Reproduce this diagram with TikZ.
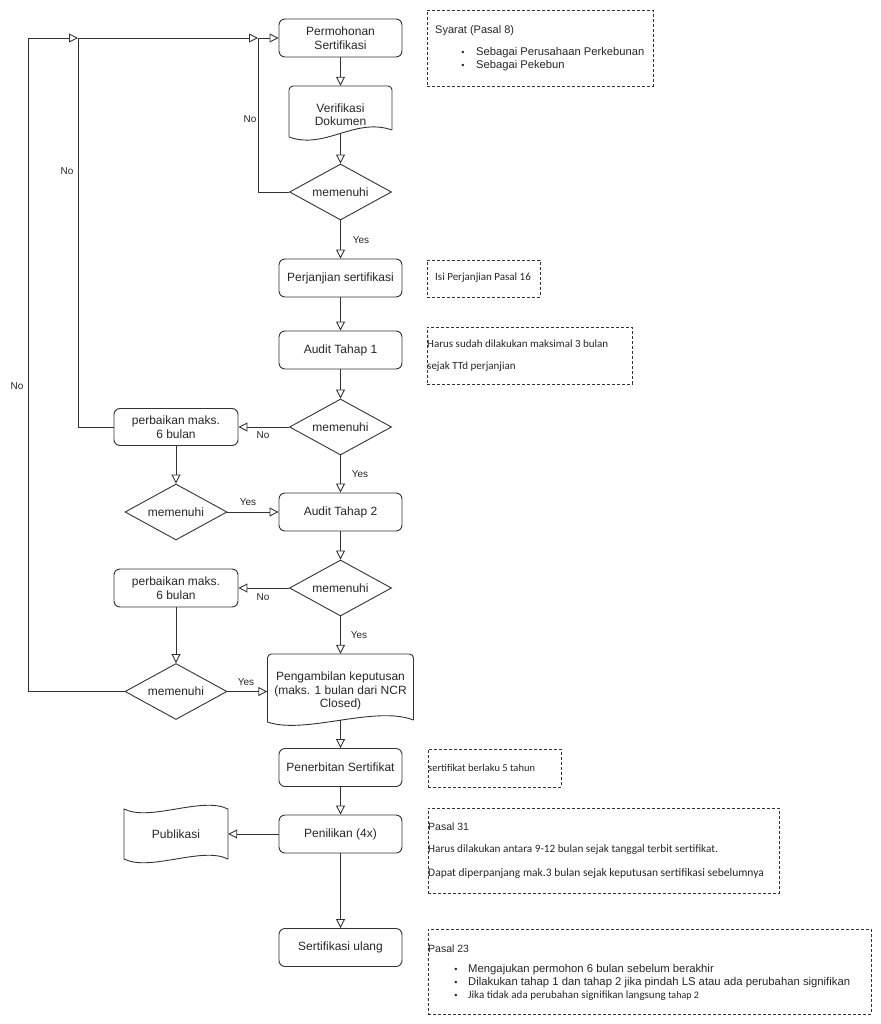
\documentclass[tikz,border=0pt]{standalone}
\usepackage{fontspec}
\setmainfont{Liberation Sans}
\newfontfamily\notefont{Carlito}
\usetikzlibrary{shapes.geometric,arrows.meta,calc}
\begin{document}
\begin{tikzpicture}[x=1pt,y=-1pt,
  every node/.style={font=\fontsize{12}{13.5}\selectfont, text=black!85},
  proc/.style={draw=black!80, rounded corners=6pt, minimum width=123pt, minimum height=38pt, align=center, inner sep=1pt, line width=0.9pt},
  dec/.style={draw=black!80, diamond, shape aspect=2, minimum width=102pt, minimum height=56pt, inner sep=1pt, line width=0.9pt},
  docbox/.style={inner sep=0pt},
  lbl/.style={font=\fontsize{10}{12}\selectfont},
  note/.style={draw=black!80, dash pattern=on 3pt off 2pt, line width=0.9pt, inner sep=0pt},
  ntxt/.style={anchor=west, inner sep=0pt},
  carl/.style={font=\notefont\fontsize{11}{12}\selectfont},
  carlb/.style={font=\notefont\fontsize{11.5}{12}\selectfont},
  arr/.style={draw=black!80, -{Triangle[open,length=9pt,width=9pt]}, line width=0.9pt},
  ln/.style={draw=black!80, line width=0.9pt},
]
\useasboundingbox (0,0) rectangle (880,1024);

% ---------- main column ----------
\node[proc] (perm) at (340.5,38) {Permohonan\\Sertifikasi};
\node[docbox, minimum width=103pt, minimum height=47.5pt,
  label={[align=center, yshift=-5pt]center:Verifikasi\\Dokumen}] (ver) at (340.5,109.75) {};
\draw[ln, rounded corners=4pt] (289,137) -- (289,86) -- (392,86) -- (392,130);
\draw[ln] (289,137) .. controls (325,150) and (355,117) .. (392,130);

\node[dec] (mem1) at (340.5,192) {memenuhi};
\node[proc] (perj) at (340.5,278) {Perjanjian sertifikasi};
\node[proc] (aud1) at (340.5,350) {Audit Tahap 1};
\node[dec] (mem2) at (340.5,427) {memenuhi};
\node[proc, minimum width=124pt, minimum height=37pt] (perb1) at (176,427) {perbaikan maks.\\6 bulan};
\node[dec] (mem3) at (176,512) {memenuhi};
\node[proc] (aud2) at (340.5,512) {Audit Tahap 2};
\node[dec] (mem4) at (340.5,588) {memenuhi};
\node[proc, minimum width=124pt, minimum height=38pt] (perb2) at (176,588) {perbaikan maks.\\6 bulan};
\node[docbox, minimum width=146pt, minimum height=66pt,
  label={[align=center, yshift=-4pt]center:Pengambilan keputusan\\(maks. 1 bulan dari NCR\\Closed)}] (peng) at (340.5,687) {};
\draw[ln, rounded corners=4pt] (267.5,722) -- (267.5,654) -- (413.5,654) -- (413.5,720);
\draw[ln] (267.5,722) .. controls (305,735) and (375,705) .. (413.5,720);
\node[dec] (mem5) at (176,691.5) {memenuhi};
\node[proc] (pen) at (340.5,767.5) {Penerbitan Sertifikat};
\node[proc] (pnl) at (340.5,834) {Penilikan (4x)};
\node[docbox, minimum width=104pt, minimum height=50pt] (pub) at (176,834) {Publikasi};
\draw[ln] (124,809) .. controls (150,822) and (202,796) .. (228,809) -- (228,859)
  .. controls (202,846) and (150,872) .. (124,859) -- cycle;
\node[proc] (ulang) at (340.5,947.5) {Sertifikasi ulang};

% ---------- loop coordinates ----------
\coordinate (j1) at (78,38);
\coordinate (j2) at (258,38);
\coordinate (c1) at (28,38);

% ---------- connectors ----------
\draw[arr] (perm) -- (ver);
\draw[arr] (ver) -- (mem1);
\draw[arr] (mem1) -- (perj);
\draw[arr] (perj) -- (aud1);
\draw[arr] (aud1) -- (mem2);
\draw[arr] (mem2) -- (perb1);
\draw[arr] (mem2) -- (aud2);
\draw[arr] (perb1) -- (mem3);
\draw[arr] (mem3) -- (aud2);
\draw[arr] (aud2) -- (mem4);
\draw[arr] (mem4) -- (perb2);
\draw[arr] (mem4) -- (peng);
\draw[arr] (perb2) -- (mem5);
\draw[arr] (mem5) -- (mem5 -| peng.west);
\draw[arr] (peng) -- (pen);
\draw[arr] (pen) -- (pnl);
\draw[arr] (pnl) -- (pub);
\draw[arr] (pnl) -- (ulang);

\draw[arr] (mem5.west) -| (c1) -- (j1);
\draw[arr] (perb1.west) -| (j1) -- (j2);
\draw[arr] (mem1.west) -| (j2) -- (perm.west);

% ---------- connector labels ----------
\node[lbl] (l1) at (250,119) {No};
\node[lbl] (l2) at (67,171) {No};
\node[lbl] (l3) at (17,386) {No};
\node[lbl] (l4) at (361,240) {Yes};
\node[lbl] (l5) at (263,435) {No};
\node[lbl] (l6) at (360,474) {Yes};
\node[lbl] (l7) at (248,502) {Yes};
\node[lbl] (l8) at (263,597) {No};
\node[lbl] (l9) at (359,635) {Yes};
\node[lbl] (l10) at (246,682) {Yes};

% ---------- notes ----------
\node[note, minimum width=226pt, minimum height=76pt] (n1) at (540,48) {};
\node[ntxt, font=\fontsize{11}{12}\selectfont] (n1a) at (435,31) {Syarat (Pasal 8)};
\node[inner sep=0pt, font=\fontsize{9}{10}\selectfont] (n1b) at (463,53) {\textbullet};
\node[ntxt, font=\fontsize{11.2}{12}\selectfont] (n1c) at (476,53) {Sebagai Perusahaan Perkebunan};
\node[inner sep=0pt, font=\fontsize{9}{10}\selectfont] (n1d) at (463,66) {\textbullet};
\node[ntxt, font=\fontsize{11.2}{12}\selectfont] (n1e) at (476,66) {Sebagai Pekebun};

\node[note, minimum width=113pt, minimum height=37pt] (n2) at (483.5,278.5) {};
\node[ntxt, carl] (n2a) at (435,278) {Isi Perjanjian Pasal 16};

\node[note, minimum width=205pt, minimum height=57pt] (n3) at (529.5,355.5) {};
\node[ntxt, carl] (n3a) at (427,344) {Harus sudah dilakukan maksimal 3 bulan};
\node[ntxt, carl] (n3b) at (427,367) {sejak TTd perjanjian};

\node[note, minimum width=133pt, minimum height=38pt] (n4) at (494.5,768) {};
\node[ntxt, font=\notefont\fontsize{10.5}{11}\selectfont] (n4a) at (428,768) {sertifikat berlaku 5 tahun};

\node[note, minimum width=351pt, minimum height=85pt] (n5) at (603.5,850.5) {};
\node[ntxt, font=\fontsize{10.5}{12}\selectfont] (n5a) at (428,827) {Pasal 31};
\node[ntxt, font=\notefont\fontsize{11.2}{12}\selectfont] (n5b) at (428,850) {Harus dilakukan antara 9-12 bulan sejak tanggal terbit sertifikat.};
\node[ntxt, carlb] (n5c) at (428,873) {Dapat diperpanjang mak.3 bulan sejak keputusan sertifikasi sebelumnya};

\node[note, minimum width=443pt, minimum height=85pt] (n6) at (649.5,971.5) {};
\node[ntxt, font=\fontsize{10.5}{12}\selectfont] (n6a) at (428,949) {Pasal 23};
\node[inner sep=0pt, font=\fontsize{9}{10}\selectfont] (n6b) at (456,970) {\textbullet};
\node[ntxt, font=\fontsize{11.3}{12}\selectfont] (n6c) at (468,970) {Mengajukan permohon 6 bulan sebelum berakhir};
\node[inner sep=0pt, font=\fontsize{9}{10}\selectfont] (n6d) at (456,983) {\textbullet};
\node[ntxt, font=\fontsize{11.3}{12}\selectfont] (n6e) at (468,983) {Dilakukan tahap 1 dan tahap 2 jika pindah LS atau ada perubahan signifikan};
\node[inner sep=0pt, font=\fontsize{9}{10}\selectfont] (n6f) at (456,996) {\textbullet};
\node[ntxt, font=\notefont\fontsize{11}{12}\selectfont] (n6g) at (468,996) {Jika tidak ada perubahan signifikan langsung {\fontsize{10}{12}\selectfont tahap 2}};
\end{tikzpicture}
\end{document}
